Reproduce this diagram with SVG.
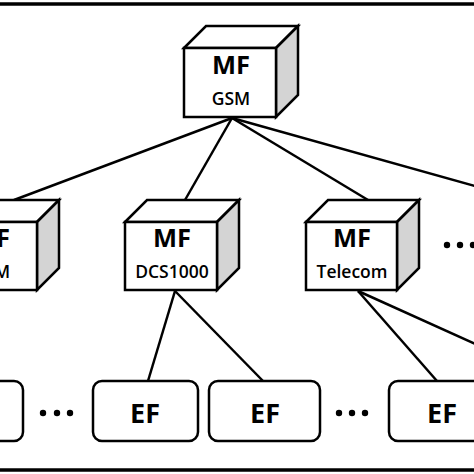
<svg xmlns="http://www.w3.org/2000/svg" width="474" height="474" viewBox="0 0 474 474">
<style>
.face{fill:#ffffff;stroke:#000;stroke-width:2.5;stroke-linejoin:miter}
.side{fill:#d4d4d4;stroke:#000;stroke-width:2.5;stroke-linejoin:miter}
.box{fill:#ffffff;stroke:#000;stroke-width:2.5}
.conn{stroke:#000;stroke-width:2.5;fill:none}
.big{font-family:"Open Sans","Noto Sans",sans-serif;font-weight:700;font-size:25.5px;text-anchor:middle;fill:#000}
.ef{font-family:"Open Sans","Noto Sans",sans-serif;font-weight:700;font-size:27px;text-anchor:middle;fill:#000}
.sub{font-family:"Open Sans","Noto Sans",sans-serif;font-weight:600;font-size:17.5px;text-anchor:middle;fill:#000}
.dot{fill:#000}
.rule{stroke:#000;stroke-width:3.5}
</style>
<line class="rule" x1="0" y1="4" x2="474" y2="4"/>
<line class="rule" x1="0" y1="470" x2="474" y2="470"/>
<g id="connectors">
<line class="conn" x1="232" y1="118" x2="14" y2="200"/>
<line class="conn" x1="232" y1="118" x2="185" y2="200"/>
<line class="conn" x1="232" y1="118" x2="368" y2="200"/>
<line class="conn" x1="232" y1="118" x2="500" y2="193"/>
<line class="conn" x1="175" y1="291" x2="148" y2="381"/>
<line class="conn" x1="175" y1="291" x2="263" y2="381"/>
<line class="conn" x1="358" y1="291" x2="437" y2="381"/>
<line class="conn" x1="358" y1="291" x2="500" y2="355"/>
</g>
<g id="mf-gsm">
<polygon class="face" points="184,48 206,26 298,26 276,48"/>
<polygon class="side" points="276,48 298,26 298,95 276,117"/>
<rect class="face" x="184" y="48" width="92" height="69"/>
<text class="big" x="231" y="74">MF</text>
<text class="sub" x="231" y="105">GSM</text>
</g>
<g id="mf-left">
<polygon class="face" points="-55,222 -33,200 59,200 37,222"/>
<polygon class="side" points="37,222 59,200 59,268 37,290"/>
<rect class="face" x="-55" y="222" width="92" height="68"/>
<text class="big" x="-9" y="247">MF</text>
<text class="sub" x="-9" y="278">GSM</text>
</g>
<g id="mf-dcs1000">
<polygon class="face" points="125,222 147,200 239,200 217,222"/>
<polygon class="side" points="217,222 239,200 239,268 217,290"/>
<rect class="face" x="125" y="222" width="92" height="68"/>
<text class="big" x="172" y="247">MF</text>
<text class="sub" x="172" y="278">DCS1000</text>
</g>
<g id="mf-telecom">
<polygon class="face" points="306,222 328,200 419,200 397,222"/>
<polygon class="side" points="397,222 419,200 419,268 397,290"/>
<rect class="face" x="306" y="222" width="91" height="68"/>
<text class="big" x="352" y="247">MF</text>
<text class="sub" x="352" y="278">Telecom</text>
</g>
<g id="dots-mf">
<circle class="dot" cx="447" cy="245" r="3.2"/>
<circle class="dot" cx="460" cy="245" r="3.2"/>
<circle class="dot" cx="473" cy="245" r="3.2"/>
</g>
<g id="ef-a">
<rect class="box" x="-85" y="381" width="108" height="60" rx="9"/>
</g>
<g id="dots-1">
<circle class="dot" cx="43" cy="413" r="3.2"/>
<circle class="dot" cx="57" cy="413" r="3.2"/>
<circle class="dot" cx="70" cy="413" r="3.2"/>
</g>
<g id="ef-b">
<rect class="box" x="93" y="381" width="105" height="60" rx="9"/>
<text class="ef" x="145" y="423">EF</text>
</g>
<g id="ef-c">
<rect class="box" x="209" y="381" width="111" height="60" rx="9"/>
<text class="ef" x="265" y="423">EF</text>
</g>
<g id="dots-2">
<circle class="dot" cx="339" cy="413" r="3.2"/>
<circle class="dot" cx="352" cy="413" r="3.2"/>
<circle class="dot" cx="365" cy="413" r="3.2"/>
</g>
<g id="ef-d">
<rect class="box" x="389" y="381" width="108" height="60" rx="9"/>
<text class="ef" x="442" y="423">EF</text>
</g>
</svg>
